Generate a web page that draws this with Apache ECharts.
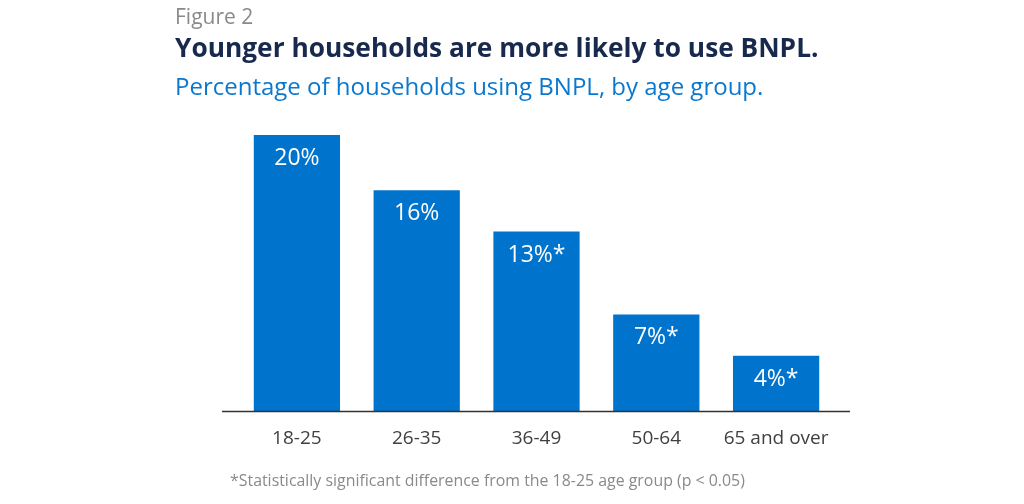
<!DOCTYPE html>
<html>
<head>
<meta charset="utf-8">
<script src="https://cdn.jsdelivr.net/npm/echarts@6/dist/echarts.min.js"></script>
<style>html,body{margin:0;padding:0;background:#fff;}#c{width:1024px;height:504px;}</style>
</head>
<body>
<div id="c"></div>
<script>
const categories = ['18-25', '26-35', '36-49', '50-64', '65 and over'];
const values = [20, 16, 13, 7, 4];
const valueLabels = ['20%', '16%', '13%*', '7%*', '4%*'];

const chart = echarts.init(document.getElementById('c'));
const FONT = '"Open Sans", "Noto Sans", sans-serif';
chart.setOption({
  backgroundColor: '#ffffff',
  animation: false,
  textStyle: { fontFamily: FONT },
  title: [
    { text: 'Figure 2', left: 170, top: 3, textStyle: { fontFamily: FONT, fontSize: 21, fontWeight: 'normal', color: '#8a8a8a' } },
    { text: 'Younger households are more likely to use BNPL.', left: 170, top: 32, textStyle: { fontFamily: FONT, fontSize: 26.3, fontWeight: 'bold', color: '#17294d' } },
    { text: 'Percentage of households using BNPL, by age group.', left: 170, top: 71, textStyle: { fontFamily: FONT, fontSize: 24, fontWeight: 'normal', color: '#0a78cf' } },
    { text: '*Statistically significant difference from the 18-25 age group (p < 0.05)', left: 225, top: 468, textStyle: { fontFamily: FONT, fontSize: 15.9, fontWeight: 'normal', color: '#8a8a8a' } }
  ],
  grid: { left: 237, right: 188, top: 135, bottom: 93 },
  xAxis: {
    type: 'category',
    data: categories,
    axisLine: { show: false },
    axisTick: { show: false },
    axisLabel: { color: '#404040', fontSize: 19, fontFamily: FONT, margin: 18, interval: 0 }
  },
  yAxis: {
    type: 'value', min: 0, max: 20,
    show: false
  },
  series: [{
    type: 'bar',
    data: values,
    barWidth: '72%',
    itemStyle: { color: '#0073cc' },
    label: {
      show: true, position: 'insideTop', distance: 12,
      color: '#ffffff', fontSize: 23, fontFamily: FONT,
      formatter: p => valueLabels[p.dataIndex]
    }
  }],
  graphic: [{
    type: 'line',
    shape: { x1: 222, y1: 411.5, x2: 850, y2: 411.5 },
    style: { stroke: '#333333', lineWidth: 1.5 },
    z: 10
  }]
});
</script>
</body>
</html>
